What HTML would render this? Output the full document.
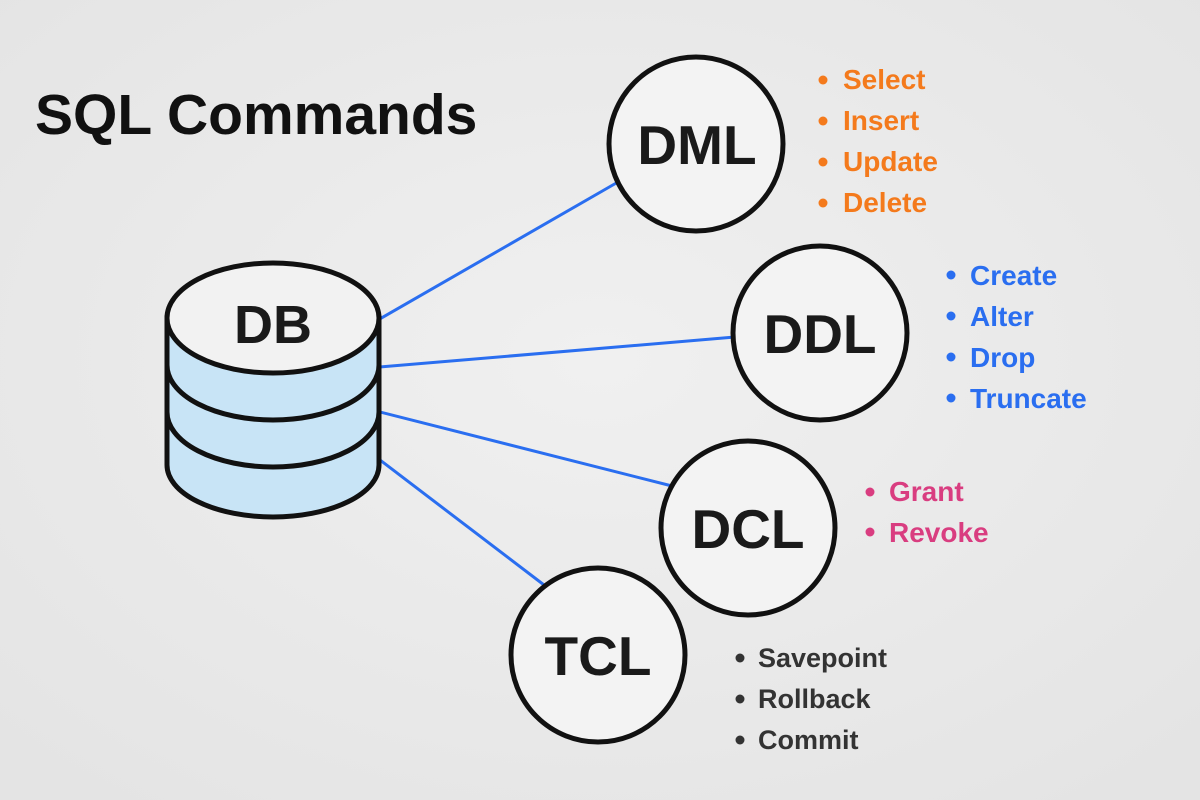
<!DOCTYPE html>
<html><head><meta charset="utf-8"><style>
html,body{margin:0;padding:0;width:1200px;height:800px;overflow:hidden;background:#ebebeb;}
svg{display:block}
text{font-family:"Liberation Sans","DejaVu Sans",sans-serif;font-weight:bold;}
</style></head><body>
<svg width="1200" height="800" viewBox="0 0 1200 800">
<defs><radialGradient id="bg" cx="50%" cy="45%" r="70%"><stop offset="0" stop-color="#f0f0f0"/><stop offset="1" stop-color="#e4e4e4"/></radialGradient></defs>
<rect width="1200" height="800" fill="url(#bg)"/>
<text x="35" y="134" font-size="57" fill="#111">SQL Commands</text>
<g stroke="#2a6ef0" stroke-width="3" fill="none">
<line x1="378" y1="320" x2="618" y2="182"/>
<line x1="380" y1="367" x2="735" y2="337"/>
<line x1="380" y1="412" x2="676" y2="487"/>
<line x1="380" y1="460" x2="548" y2="588"/>
</g>
<g stroke="#111" stroke-width="5">
<path d="M167 318 L167 465 A106 52 0 0 0 379 465 L379 318 Z" fill="#c8e4f6"/>
<path d="M167 365 A106 55 0 0 0 379 365" fill="none"/>
<path d="M167 412 A106 55 0 0 0 379 412" fill="none"/>
<ellipse cx="273" cy="318" rx="106" ry="55" fill="#f2f2f2"/>
</g>
<text x="273" y="343" font-size="54" fill="#1a1a1a" text-anchor="middle">DB</text>
<g stroke="#111" stroke-width="5" fill="#f3f3f3">
<circle cx="696" cy="144" r="87"/>
<circle cx="820" cy="333" r="87"/>
<circle cx="748" cy="528" r="87"/>
<circle cx="598" cy="655" r="87"/>
</g>
<g font-size="55" fill="#1a1a1a" text-anchor="middle">
<text x="697" y="164">DML</text>
<text x="820" y="353">DDL</text>
<text x="748" y="548">DCL</text>
<text x="598" y="675">TCL</text>
</g>
<g fill="#f47a1c" font-size="28">
<circle cx="823" cy="80" r="4.5"/><text x="843" y="89">Select</text>
<circle cx="823" cy="121" r="4.5"/><text x="843" y="130">Insert</text>
<circle cx="823" cy="162" r="4.5"/><text x="843" y="171">Update</text>
<circle cx="823" cy="203" r="4.5"/><text x="843" y="212">Delete</text>
</g>
<g fill="#2a6ef0" font-size="28">
<circle cx="951" cy="275" r="4.5"/><text x="970" y="285">Create</text>
<circle cx="951" cy="316" r="4.5"/><text x="970" y="326">Alter</text>
<circle cx="951" cy="357" r="4.5"/><text x="970" y="367">Drop</text>
<circle cx="951" cy="398" r="4.5"/><text x="970" y="408">Truncate</text>
</g>
<g fill="#d93d80" font-size="28">
<circle cx="870" cy="492" r="4.5"/><text x="889" y="501">Grant</text>
<circle cx="870" cy="532" r="4.5"/><text x="889" y="542">Revoke</text>
</g>
<g fill="#333" font-size="27">
<circle cx="740" cy="658" r="4.5"/><text x="758" y="667">Savepoint</text>
<circle cx="740" cy="699" r="4.5"/><text x="758" y="708">Rollback</text>
<circle cx="740" cy="740" r="4.5"/><text x="758" y="749">Commit</text>
</g>
</svg>
</body></html>
